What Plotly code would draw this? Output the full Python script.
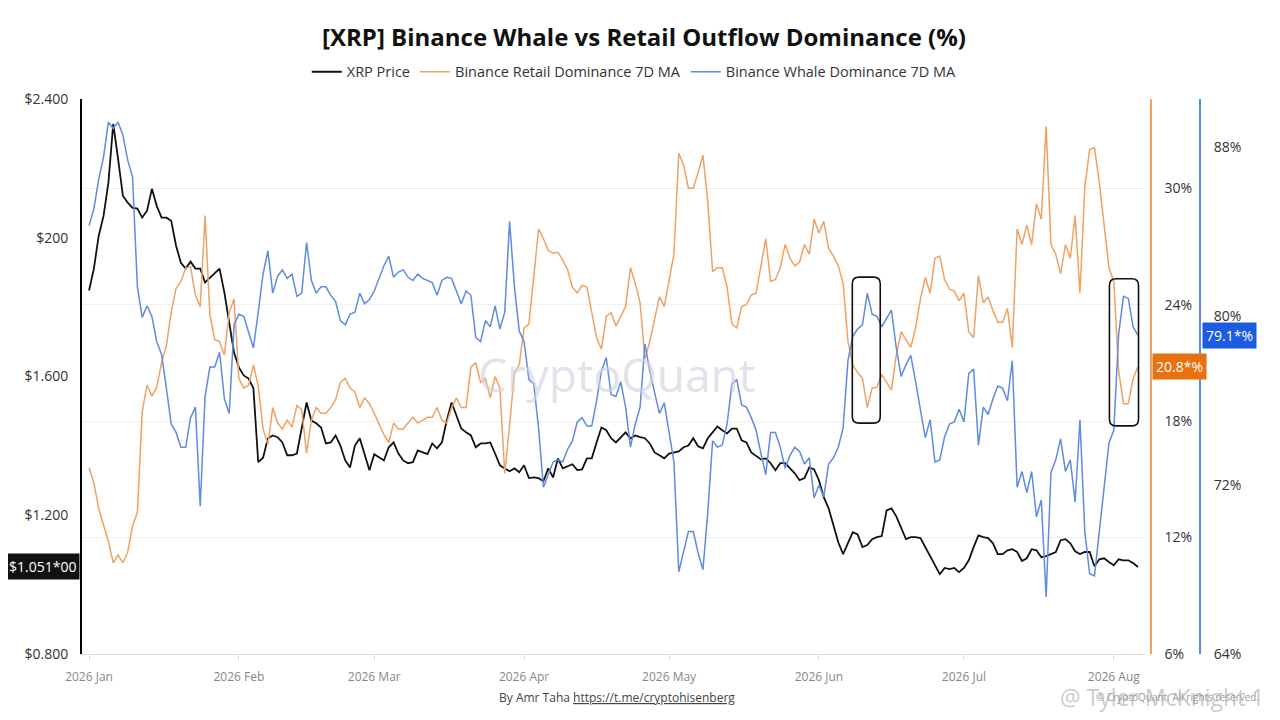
import pandas as pd
import plotly.graph_objects as go

# Daily values (1 Jan 2026 -> 6 Aug 2026)
xrp_price = [
    1.848, 1.911, 2.006, 2.063, 2.158, 2.328, 2.228, 2.121, 2.101, 2.086,
    2.084, 2.058, 2.078, 2.141, 2.092, 2.058, 2.058, 2.049, 1.977, 1.928,
    1.911, 1.931, 1.911, 1.911, 1.871, 1.885, 1.897, 1.911, 1.842, 1.755,
    1.669, 1.626, 1.603, 1.594, 1.566, 1.353, 1.366, 1.422, 1.430, 1.425,
    1.410, 1.373, 1.373, 1.378, 1.450, 1.525, 1.473, 1.465, 1.453, 1.407,
    1.410, 1.430, 1.401, 1.358, 1.338, 1.401, 1.422, 1.373, 1.330, 1.376,
    1.367, 1.358, 1.396, 1.410, 1.378, 1.358, 1.350, 1.353, 1.387, 1.381,
    1.376, 1.407, 1.393, 1.410, 1.473, 1.525, 1.488, 1.450, 1.439, 1.430,
    1.396, 1.407, 1.407, 1.410, 1.378, 1.344, 1.335, 1.327, 1.335, 1.324,
    1.344, 1.307, 1.309, 1.307, 1.298, 1.335, 1.309, 1.364, 1.335, 1.341,
    1.347, 1.330, 1.332, 1.364, 1.364, 1.410, 1.453, 1.445, 1.422, 1.410,
    1.425, 1.439, 1.422, 1.430, 1.425, 1.422, 1.407, 1.381, 1.373, 1.364,
    1.378, 1.381, 1.384, 1.396, 1.401, 1.422, 1.399, 1.393, 1.422, 1.439,
    1.456, 1.445, 1.436, 1.450, 1.450, 1.416, 1.410, 1.381, 1.370, 1.361,
    1.364, 1.350, 1.330, 1.350, 1.350, 1.335, 1.321, 1.301, 1.307, 1.338,
    1.332, 1.301, 1.252, 1.220, 1.171, 1.122, 1.088, 1.119, 1.151, 1.145,
    1.108, 1.114, 1.131, 1.137, 1.140, 1.214, 1.220, 1.197, 1.163, 1.131,
    1.137, 1.137, 1.134, 1.108, 1.079, 1.056, 1.030, 1.048, 1.045, 1.048,
    1.036, 1.048, 1.070, 1.108, 1.142, 1.137, 1.134, 1.119, 1.088, 1.088,
    1.099, 1.102, 1.094, 1.068, 1.076, 1.102, 1.099, 1.079, 1.082, 1.088,
    1.094, 1.128, 1.131, 1.119, 1.096, 1.088, 1.094, 1.094, 1.053, 1.073,
    1.076, 1.065, 1.056, 1.073, 1.070, 1.070, 1.062, 1.051,
]

retail_dom = [
    15.6, 14.8, 13.5, 12.6, 11.8, 10.7, 11.1, 10.7, 11.25, 12.6,
    13.3, 18.5, 19.85, 19.3, 19.75, 21.0, 21.9, 23.6, 24.85, 25.2,
    25.9, 25.95, 24.5, 23.9, 28.6, 23.5, 22.2, 22.1, 21.4, 23.6,
    24.3, 20.2, 19.7, 19.85, 20.9, 19.8, 17.6, 16.8, 18.7, 17.9,
    17.6, 18.05, 17.7, 18.8, 18.6, 16.35, 18.05, 18.7, 18.4, 18.4,
    18.7, 19.1, 20.0, 20.2, 19.7, 19.5, 18.7, 19.2, 18.9, 18.4,
    17.8, 17.3, 16.9, 17.9, 17.6, 17.6, 17.9, 18.2, 17.9, 18.05,
    18.2, 18.2, 18.7, 18.05, 17.9, 18.7, 19.2, 18.7, 18.7, 20.8,
    21.0, 20.0, 20.2, 19.2, 20.3, 19.7, 15.3, 17.8, 20.5, 20.9,
    22.8, 23.0, 25.4, 27.9, 27.4, 26.8, 26.65, 26.7, 26.3, 25.8,
    24.9, 24.6, 25.0, 24.9, 23.6, 22.3, 21.7, 23.4, 23.6, 22.9,
    23.4, 23.9, 25.9, 25.1, 24.1, 21.2, 22.1, 23.3, 24.4, 23.9,
    25.2, 26.6, 31.8, 31.2, 30.0, 30.0, 30.8, 31.7, 29.3, 25.7,
    25.9, 25.9, 24.9, 23.0, 22.8, 23.9, 24.0, 24.5, 24.6, 26.0,
    27.4, 25.2, 25.3, 25.9, 27.1, 26.4, 26.0, 26.2, 27.1, 26.6,
    28.4, 27.7, 28.3, 26.9, 26.5, 26.0, 25.1, 22.1, 20.9, 20.5,
    20.2, 18.7, 19.7, 19.75, 20.4, 20.0, 19.6, 21.4, 22.6, 22.2,
    21.8, 22.8, 24.3, 25.4, 24.6, 26.4, 26.5, 25.3, 24.8, 24.7,
    24.2, 24.6, 22.6, 22.3, 25.5, 24.1, 24.4, 23.7, 23.1, 23.1,
    23.8, 21.8, 27.9, 27.1, 28.1, 27.1, 29.2, 28.4, 33.2, 27.1,
    26.6, 25.6, 27.1, 26.4, 28.6, 24.6, 30.05, 32.0, 32.1, 30.3,
    28.0, 25.9, 25.2, 20.6, 18.9, 18.9, 20.2, 20.8,
]

whale_dom = [
    84.3, 85.1, 86.5, 87.55, 89.2, 88.9, 89.2, 88.6, 87.4, 86.6,
    81.4, 79.95, 80.5, 80.0, 78.8, 78.2, 76.6, 74.9, 74.5, 73.8,
    73.8, 75.2, 75.7, 71.0, 76.2, 77.6, 77.6, 78.3, 76.1, 75.4,
    79.6, 80.1, 80.0, 79.3, 78.5, 80.2, 82.0, 83.1, 81.1, 81.9,
    82.2, 81.8, 82.0, 80.95, 81.1, 83.5, 81.7, 81.1, 81.4, 81.4,
    81.0, 80.7, 79.8, 79.6, 80.1, 80.2, 81.1, 80.6, 80.8, 81.2,
    81.8, 82.4, 82.85, 81.85, 82.1, 82.2, 81.85, 81.7, 82.0, 81.8,
    81.7, 81.6, 81.0, 81.7, 81.85, 81.8, 81.2, 80.6, 81.2, 81.0,
    79.0, 78.8, 79.8, 79.5, 80.5, 79.4, 80.2, 84.5, 81.4, 79.3,
    78.8, 77.0, 76.8, 74.7, 71.9, 72.5, 73.1, 73.2, 73.1, 73.7,
    74.1, 75.0, 75.2, 74.8, 74.8, 76.0, 77.4, 78.05, 76.3, 76.2,
    76.9, 75.7, 73.8, 74.9, 75.7, 78.7, 77.4, 76.4, 75.4, 75.9,
    74.5, 73.1, 67.9, 68.8, 69.8, 69.8, 68.8, 68.0, 70.7, 74.1,
    73.8, 73.9, 74.9, 76.8, 77.0, 75.8, 75.7, 75.2, 74.6, 73.5,
    72.5, 74.5, 74.5, 73.8, 72.8, 73.4, 73.8, 73.6, 73.0, 73.3,
    71.4, 72.0, 71.45, 73.0, 73.3, 73.8, 74.7, 77.9, 79.05, 79.4,
    79.6, 81.1, 80.1, 80.0, 79.5, 79.9, 80.3, 78.5, 77.15, 77.7,
    78.15, 76.9, 75.6, 74.25, 75.1, 73.1, 73.2, 74.3, 74.9, 75.0,
    75.6, 75.0, 77.3, 77.5, 73.9, 75.7, 75.35, 76.1, 76.7, 76.6,
    76.0, 77.9, 71.9, 72.65, 71.65, 72.65, 70.5, 71.3, 66.7, 72.6,
    73.2, 74.2, 72.65, 73.2, 71.2, 75.1, 69.8, 67.8, 67.7, 69.8,
    72.0, 74.0, 74.6, 79.15, 80.95, 80.85, 79.5, 79.1,
]

dates = pd.date_range("2026-01-01", periods=len(xrp_price), freq="D")

price_ticks = [0.8, 1.2, 1.6, 2.0, 2.4]
price_ticktext = ["$0.800", "$1.200", "$1.600", "$200", "$2.400"]
retail_ticks = [6, 12, 18, 24, 30]
retail_ticktext = ["6%", "12%", "18%", "24%", "30%"]
whale_ticks = [64, 72, 80, 88]
whale_ticktext = ["64%", "72%", "80%", "88%"]

BLACK = "#111111"
ORANGE = "#f0a263"
BLUE = "#5f8be0"
FONT = "Open Sans"

fig = go.Figure()
fig.add_trace(go.Scatter(x=dates, y=xrp_price, mode="lines", name="XRP Price",
                         line=dict(color=BLACK, width=1.8), yaxis="y"))
fig.add_trace(go.Scatter(x=dates, y=retail_dom, mode="lines",
                         name="Binance Retail Dominance 7D MA",
                         line=dict(color=ORANGE, width=1.5), yaxis="y2"))
fig.add_trace(go.Scatter(x=dates, y=whale_dom, mode="lines",
                         name="Binance Whale Dominance 7D MA",
                         line=dict(color=BLUE, width=1.5), yaxis="y3"))


def rounded_box(x0, x1, y0, y1, rx=0.006, ry=0.012):
    # rounded rectangle path in paper coordinates
    return (f"M {x0+rx},{y0} L {x1-rx},{y0} Q {x1},{y0} {x1},{y0+ry} "
            f"L {x1},{y1-ry} Q {x1},{y1} {x1-rx},{y1} L {x0+rx},{y1} "
            f"Q {x0},{y1} {x0},{y1-ry} L {x0},{y0+ry} Q {x0},{y0} {x0+rx},{y0} Z")


# page body has an 8px margin, so the figure is a bit smaller than the window
fig.update_layout(
    width=1272, height=712,
    paper_bgcolor="white", plot_bgcolor="white",
    margin=dict(l=74, r=80, t=91, b=66),
    font=dict(family=FONT, color="#333333", size=14),
    title=dict(text="<b>[XRP] Binance Whale vs Retail Outflow Dominance (%)</b>",
               x=0.5, xanchor="center", y=0.958, yanchor="middle",
               font=dict(size=24, color="#111111")),
    showlegend=True,
    legend=dict(orientation="h", x=0.494, xanchor="center", y=1.049, yanchor="middle",
                font=dict(size=14.5, color="#333333"), bgcolor="rgba(0,0,0,0)",
                itemwidth=30, tracegroupgap=0),
    xaxis=dict(domain=[0, 0.951],
               range=["2025-12-30 13:00", "2026-08-07 12:00"],
               tick0="2026-01-01", dtick="M1", tickformat="%Y %b",
               showgrid=False, zeroline=False,
               showline=True, linecolor="#dcdcdc", linewidth=1,
               ticks="outside", ticklen=5, tickcolor="#dcdcdc",
               ticklabelstandoff=7,
               tickfont=dict(size=12, color="#888888")),
    yaxis=dict(range=[0.8, 2.4], tickvals=price_ticks, ticktext=price_ticktext,
               showgrid=False, zeroline=False,
               showline=True, linecolor="#000000", linewidth=2,
               ticks="", ticklabelstandoff=9,
               tickfont=dict(size=14, color="#333333")),
    yaxis2=dict(range=[6, 34.6], tickvals=retail_ticks, ticktext=retail_ticktext,
                overlaying="y", side="right", anchor="free", position=0.956,
                showgrid=True, gridcolor="#f0f0f0", gridwidth=1, zeroline=False,
                showline=True, linecolor=ORANGE, linewidth=2,
                ticks="", ticklabelstandoff=10,
                tickfont=dict(size=14, color="#333333")),
    yaxis3=dict(range=[64, 90.3], tickvals=whale_ticks, ticktext=whale_ticktext,
                overlaying="y", side="right", anchor="free", position=1.0,
                showgrid=False, zeroline=False,
                showline=True, linecolor=BLUE, linewidth=2,
                ticks="", ticklabelstandoff=10,
                tickfont=dict(size=14, color="#333333")),
    shapes=[
        dict(type="path", xref="paper", yref="paper",
             path=rounded_box(0.689, 0.714, 0.416, 0.679),
             line=dict(color="#111111", width=1.6)),
        dict(type="path", xref="paper", yref="paper",
             path=rounded_box(0.919, 0.945, 0.411, 0.676),
             line=dict(color="#111111", width=1.6)),
    ],
)

annotations = [
    # last-value badges
    dict(xref="paper", yref="y", x=0, y=xrp_price[-1], xanchor="right", xshift=-2,
         text=f"${xrp_price[-1]:.3f}*00", showarrow=False, bgcolor="#111111",
         font=dict(color="white", size=14), borderpad=3),
    dict(xref="paper", yref="y2", x=0.956, y=retail_dom[-1], xanchor="left", xshift=1,
         text=f"{retail_dom[-1]}*%", showarrow=False, bgcolor="#e8700f",
         font=dict(color="white", size=14), borderpad=3),
    dict(xref="paper", yref="y3", x=1.0, y=whale_dom[-1], xanchor="left", xshift=2,
         text=f"{whale_dom[-1]}*%", showarrow=False, bgcolor="#1d5be0",
         font=dict(color="white", size=14), borderpad=3),
    # watermark
    dict(xref="paper", yref="paper", x=0.478, y=0.505, text="CryptoQuant",
         showarrow=False, font=dict(size=46, color="rgba(210,210,224,0.65)")),
    # footer
    dict(xref="paper", yref="paper", x=0.4785, y=-0.0775, yanchor="middle",
         text="By Amr Taha <u>https://t.me/cryptohisenberg</u>",
         showarrow=False, font=dict(size=12, color="#444444")),
    dict(xref="paper", yref="paper", x=0.905, y=-0.0775, xanchor="left", yanchor="middle",
         text="© CryptoQuant. All rights reserved.",
         showarrow=False, font=dict(size=10, color="#999999")),
    dict(xref="paper", yref="paper", x=0.873, y=-0.0775, xanchor="left", yanchor="middle",
         text="@ Tyler McKnight 1",
         showarrow=False, font=dict(size=23, color="rgba(150,150,150,0.5)")),
]
fig.update_layout(annotations=annotations)

fig.write_html("out.html")
